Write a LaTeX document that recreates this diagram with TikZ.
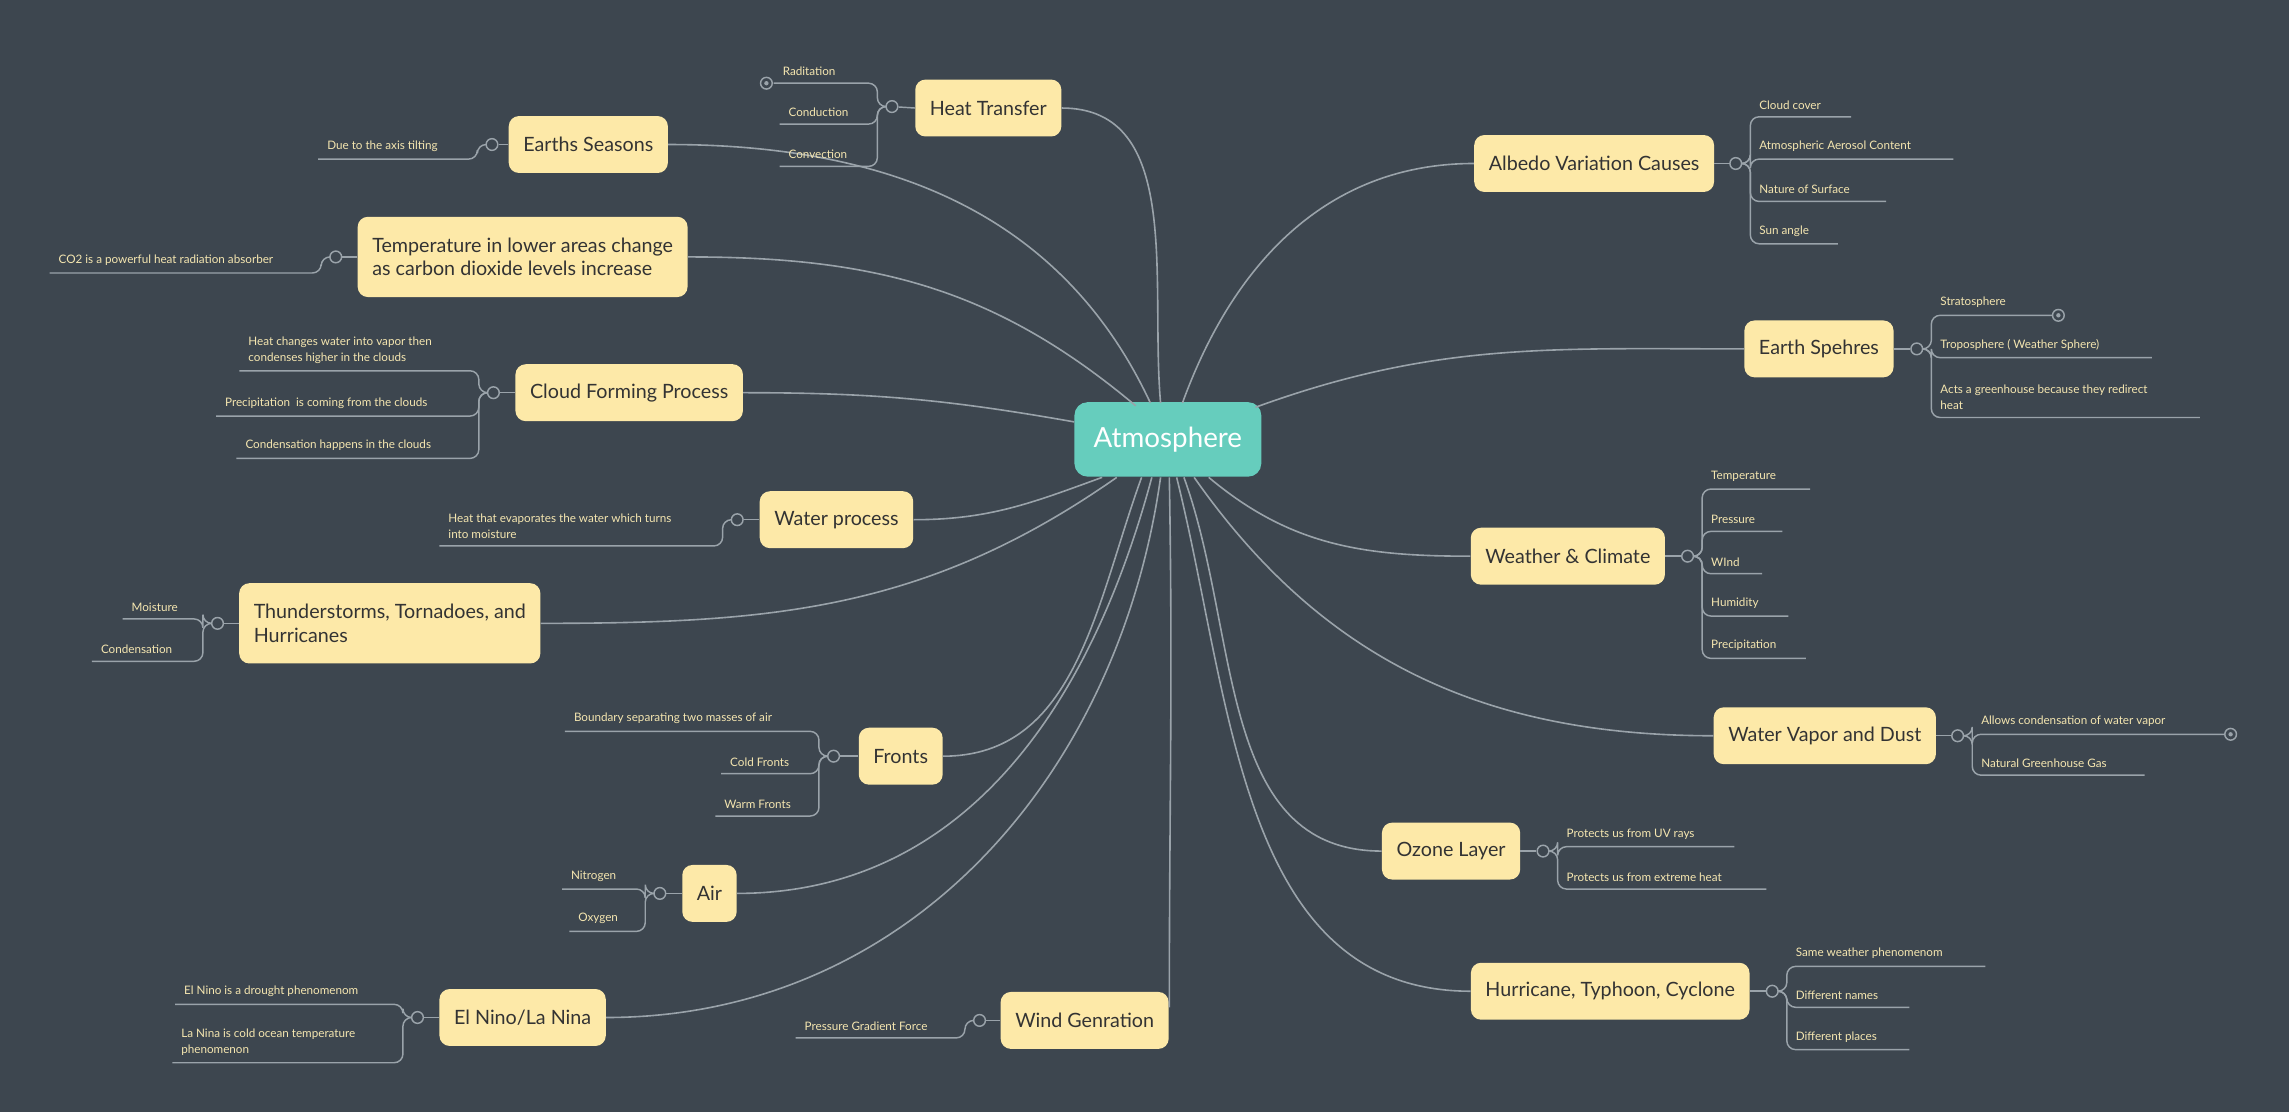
\documentclass[tikz,border=0pt]{standalone}
\usepackage{fontspec}
\setmainfont{Lato}
\usetikzlibrary{calc}
\definecolor{bg}{HTML}{3D464F}
\definecolor{teal}{HTML}{66CDBD}
\definecolor{topicc}{HTML}{FDE9A8}
\definecolor{leafc}{HTML}{F5E6B0}
\definecolor{linec}{HTML}{9AA3AA}
\tikzset{
 topic/.style={fill=topicc,rounded corners=7pt,text=black!80,font=\fontsize{13.5}{16}\selectfont,inner xsep=10pt,inner ysep=0pt,minimum height=39pt,align=left},
 conn/.style={draw=linec,line width=1.1pt},
 leafline/.style={draw=linec,line width=1pt,rounded corners=6pt},
 leaftext/.style={text=leafc,font=\fontsize{8}{11}\selectfont,inner sep=2pt,align=left},
 knob/.style={circle,draw=linec,line width=1pt,fill=bg,minimum size=8pt,inner sep=0pt},
}
\newcommand\Lleaf[4]{\draw[leafline] (#1) -- ++(-10,0) |- (#2,#3);
 \node[leaftext,anchor=south west] at (#2+4,#3-3) {#4};}
\newcommand\Rleaf[4]{\draw[leafline] (#1) -- ++(10,0) |- (#2,#3);
 \path (#1) ++(14,0) coordinate (tmpx); \coordinate (tmpy) at (0,#3-3);
 \node[leaftext,anchor=south west] at (tmpx |- tmpy) {#4};}
\begin{document}
\begin{tikzpicture}[x=1pt,y=-1pt]
\fill[bg] (0,0) rectangle (1568,762);
\useasboundingbox (0,0) rectangle (1568,762);
\node[fill=teal,rounded corners=9pt,text=white,font=\fontsize{19}{22}\selectfont,minimum width=128pt,minimum height=51pt] (atm) at (800,301) {Atmosphere};
% topics
\node[topic] (ht) at (677,74) {Heat Transfer};
\node[topic] (es) at (403,99) {Earths Seasons};
\node[topic,minimum height=55pt] (tl) at (358,176) {Temperature in lower areas change\\as carbon dioxide levels increase};
\node[topic] (cf) at (431,269) {Cloud Forming Process};
\node[topic] (wp) at (573,356) {Water process};
\node[topic,minimum height=55pt] (th) at (267,427) {Thunderstorms, Tornadoes, and\\Hurricanes};
\node[topic] (fr) at (617,518) {Fronts};
\node[topic] (air) at (486,612) {Air};
\node[topic] (en) at (358,697) {El Nino/La Nina};
\node[topic] (wg) at (743,699) {Wind Genration};
\node[topic] (al) at (1092,112) {Albedo Variation Causes};
\node[topic] (sp) at (1246,239) {Earth Spehres};
\node[topic] (wc) at (1074,381) {Weather \& Climate};
\node[topic] (wv) at (1250,504) {Water Vapor and Dust};
\node[topic] (oz) at (994,583) {Ozone Layer};
\node[topic] (hu) at (1103,679) {Hurricane, Typhoon, Cyclone};
% main connectors
\draw[conn] (795,276) to[out=95,in=0] (ht.east);
\draw[conn] (788,276) to[out=115,in=0] (es.east);
\draw[conn] (778,278) to[out=140,in=0] (tl.east);
\draw[conn] (atm.west) ++(0,-12) to[out=170,in=0] (cf.east);
\draw[conn] (755,327) to[out=200,in=0] (wp.east);
\draw[conn] (765,327) to[out=215,in=0] (th.east);
\draw[conn] (782,327) to[out=250,in=0] (fr.east);
\draw[conn] (789,327) to[out=255,in=0] (air.east);
\draw[conn] (795,327) to[out=262,in=0] (en.east);
\draw[conn] (801,327) to[out=-89,in=90] (801,690);
\draw[conn] (810,276) to[out=70,in=180] (al.west);
\draw[conn] (860,279) to[out=20,in=180] (sp.west);
\draw[conn] (828,327) to[out=-40,in=180] (wc.west);
\draw[conn] (818,327) to[out=-55,in=180] (wv.west);
\draw[conn] (811,327) to[out=-70,in=180] (oz.west);
\draw[conn] (806,327) to[out=-76,in=180] (hu.west);
% knobs
\foreach \t/\x/\y in {ht/611/73, es/337/99, tl/230/176, cf/338/269, wp/505/356, th/149/427, fr/571/518, air/452/612, en/286/697, wg/671/699}{
 \node[knob] (k\t) at (\x,\y) {};
 \draw[conn,line width=1pt] (\t.west) -- (k\t);}
\foreach \t/\x/\y in {al/1189/112, sp/1313/239, wc/1156/381, wv/1341/504, oz/1057/583, hu/1214/679}{
 \node[knob] (k\t) at (\x,\y) {};
 \draw[conn,line width=1pt] (\t.east) -- (k\t);}
% left leaves
\Lleaf{kht}{530}{57}{Raditation}
\node[knob] (m1) at (525,57) {}; \fill[linec] (m1) circle (1.5pt);
\Lleaf{kht}{534}{85}{Conduction}
\Lleaf{kht}{534}{114}{Convection}
\Lleaf{kes}{218}{109}{Due to the axis tilting}
\Lleaf{ktl}{34}{187}{CO2 is a powerful heat radiation absorber}
\Lleaf{kcf}{164}{254}{Heat changes water into vapor then\\condenses higher in the clouds}
\Lleaf{kcf}{148}{285}{Precipitation\ \ is coming from the clouds}
\Lleaf{kcf}{162}{314}{Condensation happens in the clouds}
\Lleaf{kwp}{301}{374}{Heat that evaporates the water which turns\\into moisture}
\Lleaf{kth}{84}{424}{Moisture}
\Lleaf{kth}{63}{453}{Condensation}
\Lleaf{kfr}{387}{501}{Boundary separating two masses of air}
\Lleaf{kfr}{494}{530}{Cold Fronts}
\Lleaf{kfr}{490}{559}{Warm Fronts}
\Lleaf{kair}{385}{609}{Nitrogen}
\Lleaf{kair}{390}{638}{Oxygen}
\Lleaf{ken}{120}{688}{El Nino is a drought phenomenom}
\Lleaf{ken}{118}{728}{La Nina is cold ocean temperature\\phenomenon}
\Lleaf{kwg}{545}{711}{Pressure Gradient Force}
% right leaves
\Rleaf{kal}{1268}{80}{Cloud cover}
\Rleaf{kal}{1338}{109}{Atmospheric Aerosol Content}
\Rleaf{kal}{1292}{138}{Nature of Surface}
\Rleaf{kal}{1259}{167}{Sun angle}
\Rleaf{ksp}{1406}{216}{Stratosphere}
\node[knob] (m2) at (1410,216) {}; \fill[linec] (m2) circle (1.5pt);
\Rleaf{ksp}{1474}{245}{Troposphere ( Weather Sphere)}
\Rleaf{ksp}{1507}{286}{Acts a greenhouse because they redirect\\heat}
\Rleaf{kwc}{1240}{335}{Temperature}
\Rleaf{kwc}{1221}{364}{Pressure}
\Rleaf{kwc}{1207}{393}{WInd}
\Rleaf{kwc}{1225}{422}{Humidity}
\Rleaf{kwc}{1237}{451}{Precipitation}
\Rleaf{kwv}{1524}{503}{Allows condensation of water vapor}
\node[knob] (m3) at (1528,503) {}; \fill[linec] (m3) circle (1.5pt);
\Rleaf{kwv}{1469}{531}{Natural Greenhouse Gas}
\Rleaf{koz}{1188}{580}{Protects us from UV rays}
\Rleaf{koz}{1210}{609}{Protects us from extreme heat}
\Rleaf{khu}{1360}{662}{Same weather phenomenom}
\Rleaf{khu}{1308}{690}{Different names}
\Rleaf{khu}{1308}{719}{Different places}
\end{tikzpicture}
\end{document}
